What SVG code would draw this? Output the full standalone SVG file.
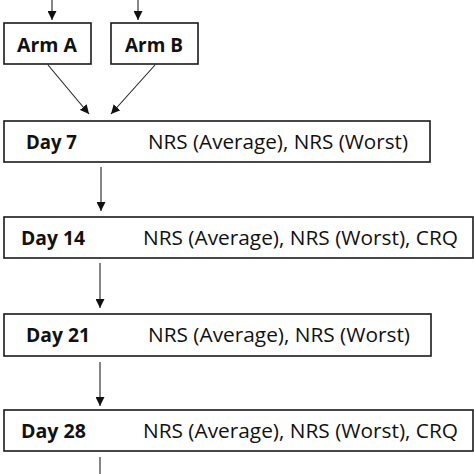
<svg xmlns="http://www.w3.org/2000/svg" width="474" height="474" viewBox="0 0 474 474">
<style>
.box{fill:#fff;stroke:#1a1a1a;stroke-width:1.6}
.t{font-family:"Open Sans","Liberation Sans",sans-serif;font-size:20px;fill:#111}
.b{font-weight:bold}
.c{stroke:#222;stroke-width:1.1;fill:none;marker-end:url(#ah)}
</style>
<defs>
<marker id="ah" viewBox="0 0 10 10" refX="10" refY="5" markerUnits="userSpaceOnUse" markerWidth="9" markerHeight="9" orient="auto">
<path d="M0,0 L10,5 L0,10 Z" fill="#111"/>
</marker>
</defs>
<rect width="474" height="474" fill="#fff"/>
<g id="connectors">
<line class="c" x1="52" y1="0" x2="52" y2="20"/>
<line class="c" x1="138" y1="0" x2="138" y2="20"/>
<line class="c" x1="48" y1="65" x2="89" y2="114"/>
<line class="c" x1="155" y1="65" x2="111" y2="114"/>
<line class="c" x1="101" y1="167" x2="101" y2="211"/>
<line class="c" x1="100" y1="263" x2="100" y2="308"/>
<line class="c" x1="100" y1="362" x2="100" y2="406"/>
<line stroke="#222" stroke-width="1.1" x1="100" y1="457" x2="100" y2="474"/>
</g>
<g id="armA">
<rect class="box" x="4" y="23" width="87" height="41"/>
<text class="t b" x="17" y="52" textLength="60" lengthAdjust="spacingAndGlyphs">Arm A</text>
</g>
<g id="armB">
<rect class="box" x="111" y="23" width="87" height="41"/>
<text class="t b" x="125" y="52" textLength="58" lengthAdjust="spacingAndGlyphs">Arm B</text>
</g>
<g id="day7">
<rect class="box" x="4" y="121" width="426" height="41"/>
<text class="t b" x="26" y="149" textLength="51" lengthAdjust="spacingAndGlyphs">Day 7</text>
<text class="t" x="148" y="149" textLength="260" lengthAdjust="spacingAndGlyphs">NRS (Average), NRS (Worst)</text>
</g>
<g id="day14">
<rect class="box" x="4" y="217" width="469" height="41"/>
<text class="t b" x="21" y="245" textLength="64" lengthAdjust="spacingAndGlyphs">Day 14</text>
<text class="t" x="143" y="245" textLength="315" lengthAdjust="spacingAndGlyphs">NRS (Average), NRS (Worst), CRQ</text>
</g>
<g id="day21">
<rect class="box" x="4" y="314" width="427" height="42"/>
<text class="t b" x="26" y="342" textLength="64" lengthAdjust="spacingAndGlyphs">Day 21</text>
<text class="t" x="148" y="342" textLength="262" lengthAdjust="spacingAndGlyphs">NRS (Average), NRS (Worst)</text>
</g>
<g id="day28">
<rect class="box" x="4" y="410" width="469" height="41"/>
<text class="t b" x="21" y="438" textLength="65" lengthAdjust="spacingAndGlyphs">Day 28</text>
<text class="t" x="143" y="438" textLength="315" lengthAdjust="spacingAndGlyphs">NRS (Average), NRS (Worst), CRQ</text>
</g>
</svg>
